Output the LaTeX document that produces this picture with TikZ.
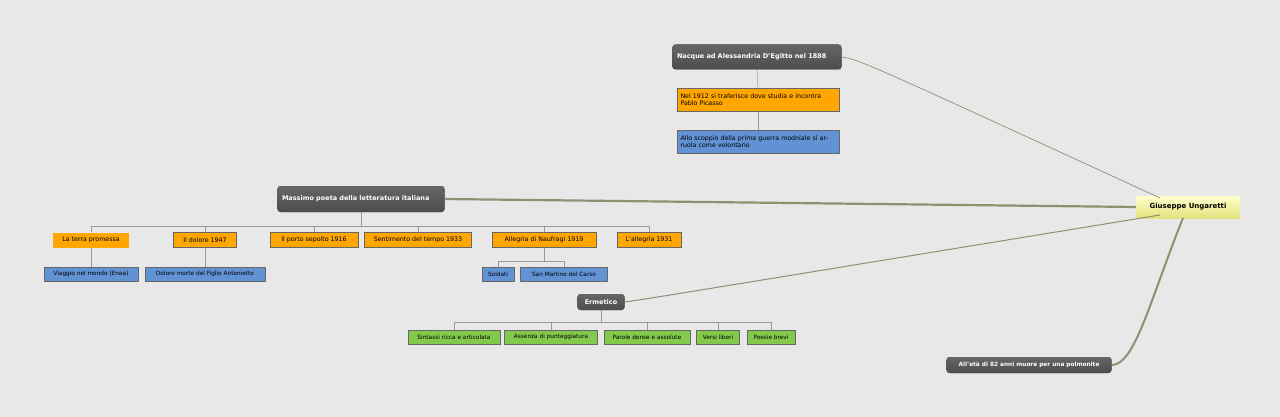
\documentclass[tikz,border=0pt]{standalone}
\usepackage{fontspec}
\setmainfont{DejaVu Sans}
\begin{document}
\begin{tikzpicture}[x=1pt,y=-1pt,font=\fontsize{6.3}{7.2}\selectfont,
 base/.style={anchor=center,inner sep=0pt,align=left},
 dark/.style={base,rounded corners=3pt,top color=gray!40!black!75,bottom color=black!70,text=white,font=\fontsize{6.5}{7.5}\selectfont\bfseries,fill=black!70},
 orange/.style={base,fill=orange!70!yellow,draw=black!60,line width=0.4pt},
 blue/.style={base,fill=cyan!50!blue!65,draw=black!60,line width=0.4pt},
 green/.style={base,fill=green!40!olive!70,draw=black!60,line width=0.4pt},
 tl/.style={draw=black!40,line width=0.5pt},
 cl/.style={draw=black!65!olive!60}]
\fill[black!9] (0,0) rectangle (1280,417);
\node[dark,minimum width=169,minimum height=25,text width=160] (nac) at (757,57) {Nacque ad Alessandria D'Egitto nel 1888};
\node[orange,minimum width=162,minimum height=23,text width=155] (nel) at (758,100) {Nel 1912 si traferisce dove studia e incontra Pablo Picasso};
\node[blue,minimum width=162,minimum height=23,text width=155] (allo) at (758,142) {Allo scoppio della prima guerra modniale si arruola come volontario};
\node[dark,minimum width=167,minimum height=26,text width=158] (mas) at (361,199) {Massimo poeta della letteratura italiana};
\node[base,minimum width=104,minimum height=22,top color=yellow!20!white,bottom color=yellow!45!olive!40,font=\fontsize{7}{8}\selectfont\bfseries,align=center] (giu) at (1188,207) {Giuseppe Ungaretti};
\node[orange,draw=none,minimum width=76,minimum height=15] (ter) at (91,240) {La terra promessa};
\node[orange,minimum width=63,minimum height=15] (dol) at (205,240) {Il dolore 1947};
\node[orange,minimum width=88,minimum height=15] (por) at (314,240) {Il porto sepolto 1916};
\node[orange,minimum width=107,minimum height=15] (sen) at (418,240) {Sentimento del tempo 1933};
\node[orange,minimum width=104,minimum height=15] (alg) at (544,240) {Allegria di Naufragi 1919};
\node[orange,minimum width=64,minimum height=15] (all) at (649,240) {L'allegria 1931};
\node[blue,minimum width=94,minimum height=14,font=\fontsize{5.8}{7}\selectfont] (via) at (91,274) {Viaggio nel mondo (Enea)};
\node[blue,minimum width=120,minimum height=14,font=\fontsize{5.8}{7}\selectfont] (dmf) at (205,274) {Dolore morte del Figlio Antonietto};
\node[blue,minimum width=32,minimum height=14,font=\fontsize{5.8}{7}\selectfont] (sol) at (498,274) {Soldati};
\node[blue,minimum width=87,minimum height=14,font=\fontsize{5.8}{7}\selectfont] (san) at (564,274) {San Martino del Carso};
\node[dark,minimum width=47,minimum height=16,align=center] (erm) at (601,302) {Ermetico};
\node[green,minimum width=92,minimum height=14,font=\fontsize{5.8}{7}\selectfont] (sin) at (454,337) {Sintassi ricca e articolata};
\node[green,minimum width=93,minimum height=14,font=\fontsize{5.8}{7}\selectfont] (ass) at (551,337) {Assenza di punteggiatura};
\node[green,minimum width=86,minimum height=14,font=\fontsize{5.8}{7}\selectfont] (par) at (647,337) {Parole dense e assolute};
\node[green,minimum width=43,minimum height=14,font=\fontsize{5.8}{7}\selectfont] (ver) at (718,337) {Versi liberi};
\node[green,minimum width=48,minimum height=14,font=\fontsize{5.8}{7}\selectfont] (poe) at (771,337) {Poesie brevi};
\node[dark,minimum width=165,minimum height=16,align=center,font=\fontsize{5.8}{7}\selectfont\bfseries] (mor) at (1029,365) {All'età di 82 anni muore per una polmonite};
% tree lines
\draw[tl] (nac.south) -- (nel.north);
\draw[tl] (nel.south) -- (allo.north);
\coordinate (b1) at (361,226);
\draw[tl] (mas.south) -- (b1);
\draw[tl] (ter.north) -- (91,226) -- (649,226) -- (all.north);
\foreach \n in {dol,por,sen,alg} \draw[tl] (\n.north) -- (\n.north |- b1);
\draw[tl] (ter.south) -- (via.north);
\draw[tl] (dol.south) -- (dmf.north);
\coordinate (b2) at (544,261);
\draw[tl] (alg.south) -- (b2);
\draw[tl] (sol.north) -- (498,261) -- (564,261) -- (san.north);
\coordinate (b3) at (601,322);
\draw[tl] (erm.south) -- (b3);
\draw[tl] (sin.north) -- (454,322) -- (771,322) -- (poe.north);
\foreach \n in {ass,par,ver} \draw[tl] (\n.north) -- (\n.north |- b3);
% main connectors
\draw[cl,line width=0.7pt] (nac.east) .. controls (860,60) .. (1160,198);
\draw[cl,line width=2.2pt] (mas.east) -- (giu.west);
\draw[cl,line width=1pt] (erm.east) .. controls (640,300) .. (1160,215);
\draw[cl,line width=2pt] (1183,218) .. controls (1150,300) and (1135,365) .. (mor.east);
\end{tikzpicture}
\end{document}
